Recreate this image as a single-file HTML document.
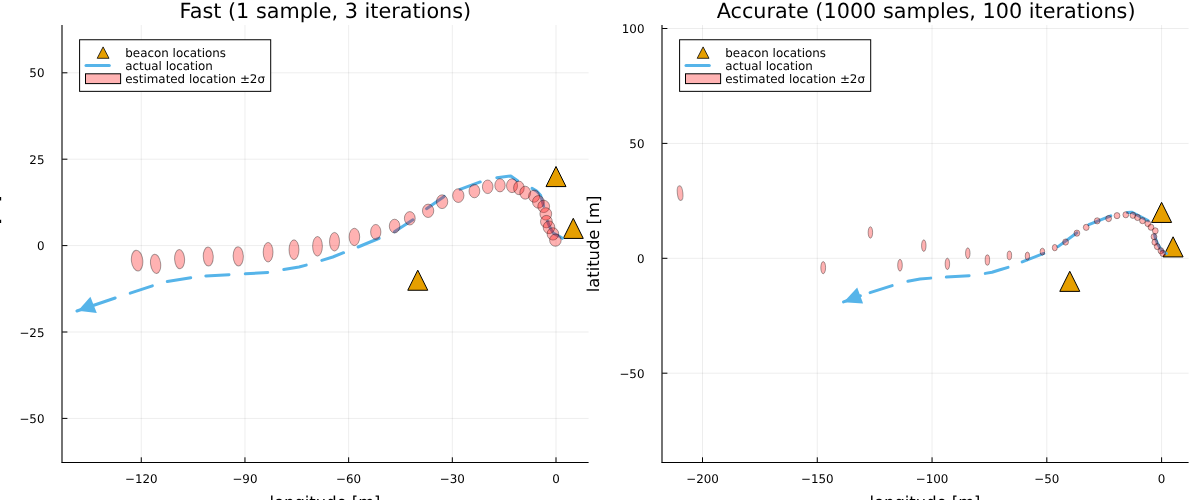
<!DOCTYPE html>
<html lang="en"><head><meta charset="utf-8"><title>Beacon localisation: fast vs accurate</title>
<style>html,body{margin:0;padding:0;background:#fff}body{width:1200px;height:500px;overflow:hidden}svg{display:block}text{font-family:"DejaVu Sans", "Liberation Sans", sans-serif;text-rendering:geometricPrecision}</style>
</head><body>
<svg width="1200" height="500" viewBox="0 0 1200 500">
<rect width="1200" height="500" fill="#fff"/>
<g id="left">
<g stroke="#000" stroke-opacity="0.1" stroke-width="0.7" fill="none">
<path d="M141.28 25.0V462.5"/>
<path d="M244.96 25.0V462.5"/>
<path d="M348.64 25.0V462.5"/>
<path d="M452.32 25.0V462.5"/>
<path d="M556.00 25.0V462.5"/>
<path d="M62.20 72.80H588.60"/>
<path d="M62.20 159.20H588.60"/>
<path d="M62.20 245.60H588.60"/>
<path d="M62.20 332.00H588.60"/>
<path d="M62.20 418.40H588.60"/>
</g>
<path d="M556.00 166.48L566.00 186.58L546.00 186.58Z" fill="#E69F00" stroke="#000" stroke-width="1" stroke-linejoin="miter"/>
<path d="M573.28 218.32L583.28 238.42L563.28 238.42Z" fill="#E69F00" stroke="#000" stroke-width="1" stroke-linejoin="miter"/>
<path d="M417.76 270.16L427.76 290.26L407.76 290.26Z" fill="#E69F00" stroke="#000" stroke-width="1" stroke-linejoin="miter"/>
<g stroke="#56B4E9" stroke-width="3" stroke-linecap="round" stroke-linejoin="round" fill="none">
<path d="M562.40 238.31L558.40 235.80L553.60 233.40L550.00 227.40L547.50 221.40"/>
<path d="M532.02 188.36L536.70 191.10L540.70 195.60L543.65 206.15"/>
<path d="M517.53 180.66L510.80 176.00L496.79 177.65"/>
<path d="M480.28 181.95L460.02 189.35"/>
<path d="M444.14 196.45L426.56 208.75"/>
<path d="M412.91 219.71L394.39 231.79"/>
<path d="M379.20 238.25L358.10 247.00"/>
<path d="M343.54 252.73L332.80 257.00L321.84 260.41"/>
<path d="M306.24 265.13L299.00 267.00L283.78 269.49"/>
<path d="M267.70 272.38L245.30 273.82"/>
<path d="M229.00 274.67L205.80 275.93"/>
<path d="M190.72 277.80L167.28 281.40"/>
<path d="M152.37 285.81L130.23 293.19"/>
<path d="M115.17 298.02L76.93 310.98"/>
</g>
<path d="M78 310.8L90.4 296.7L96.8 313.1Z" fill="#56B4E9"/>
<g fill="#f00" fill-opacity="0.3" stroke="#000" stroke-opacity="0.35" stroke-width="1">
<ellipse cx="137.10" cy="260.60" rx="5.70" ry="10.40" transform="rotate(-6 137.10 260.60)"/>
<ellipse cx="155.60" cy="263.80" rx="5.05" ry="9.70" transform="rotate(-7 155.60 263.80)"/>
<ellipse cx="179.60" cy="259.20" rx="5.00" ry="9.60" transform="rotate(-3 179.60 259.20)"/>
<ellipse cx="208.25" cy="256.60" rx="5.00" ry="9.50" transform="rotate(-2 208.25 256.60)"/>
<ellipse cx="238.25" cy="256.30" rx="5.10" ry="9.65" transform="rotate(-2 238.25 256.30)"/>
<ellipse cx="268.10" cy="252.20" rx="4.90" ry="9.80"/>
<ellipse cx="294.00" cy="249.70" rx="4.96" ry="9.90"/>
<ellipse cx="317.50" cy="246.30" rx="4.90" ry="9.80"/>
<ellipse cx="334.50" cy="241.70" rx="5.00" ry="9.30"/>
<ellipse cx="354.40" cy="236.95" rx="5.30" ry="8.70"/>
<ellipse cx="375.75" cy="231.95" rx="5.15" ry="7.50"/>
<ellipse cx="394.60" cy="226.10" rx="5.30" ry="6.90"/>
<ellipse cx="409.80" cy="218.30" rx="5.40" ry="6.70"/>
<ellipse cx="428.10" cy="210.80" rx="5.66" ry="6.70"/>
<ellipse cx="442.10" cy="201.70" rx="5.66" ry="6.90"/>
<ellipse cx="458.30" cy="195.60" rx="5.66" ry="6.90"/>
<ellipse cx="474.40" cy="191.10" rx="5.40" ry="6.70"/>
<ellipse cx="487.70" cy="186.80" rx="5.30" ry="6.80"/>
<ellipse cx="500.00" cy="185.30" rx="5.20" ry="6.60"/>
<ellipse cx="512.00" cy="185.70" rx="5.50" ry="6.95"/>
<ellipse cx="518.90" cy="187.90" rx="5.30" ry="6.80"/>
<ellipse cx="525.20" cy="192.70" rx="5.40" ry="6.50"/>
<ellipse cx="534.10" cy="196.20" rx="5.50" ry="6.10"/>
<ellipse cx="538.40" cy="201.90" rx="5.90" ry="6.30"/>
<ellipse cx="543.70" cy="206.40" rx="5.90" ry="6.20"/>
<ellipse cx="545.80" cy="213.90" rx="5.90" ry="6.20"/>
<ellipse cx="546.40" cy="221.60" rx="5.90" ry="6.20"/>
<ellipse cx="549.00" cy="227.30" rx="5.80" ry="6.40"/>
<ellipse cx="552.90" cy="233.90" rx="5.80" ry="6.20"/>
<ellipse cx="555.40" cy="240.20" rx="5.80" ry="6.10"/>
</g>
<rect x="79.60" y="39.75" width="191.1" height="51.6" fill="#fff" stroke="#000" stroke-width="1"/>
<path d="M103.10 46.90L109.00 58.30L97.20 58.30Z" fill="#E69F00" stroke="#000" stroke-width="0.8" stroke-linejoin="miter"/>
<path d="M86.00 65.6H109.30" stroke="#56B4E9" stroke-width="3" stroke-linecap="round" fill="none"/>
<rect x="85.50" y="73.8" width="35.1" height="9.8" fill="#FFB3B3" stroke="#000" stroke-width="1"/>
<text x="125.30" y="56.90" font-size="11.89" textLength="100.65" lengthAdjust="spacing">beacon locations</text>
<text x="125.30" y="69.90" font-size="11.89" textLength="87.57" lengthAdjust="spacing">actual location</text>
<text x="125.30" y="82.80" font-size="11.89" textLength="139.67" lengthAdjust="spacing">estimated location ±2σ</text>
<g stroke="#000" stroke-width="1" fill="none">
<path d="M62.00 25.0V463.00" stroke-width="1.1"/>
<path d="M61.70 462.50H588.60"/>
<path d="M141.28 462.50V457.30"/>
<path d="M244.96 462.50V457.30"/>
<path d="M348.64 462.50V457.30"/>
<path d="M452.32 462.50V457.30"/>
<path d="M556.00 462.50V457.30"/>
<path d="M62.20 72.80H67.40"/>
<path d="M62.20 159.20H67.40"/>
<path d="M62.20 245.60H67.40"/>
<path d="M62.20 332.00H67.40"/>
<path d="M62.20 418.40H67.40"/>
</g>
<text x="141.28" y="483.30" font-size="11.89" text-anchor="middle" textLength="32.66" lengthAdjust="spacing">−120</text>
<text x="244.96" y="483.30" font-size="11.89" text-anchor="middle" textLength="25.09" lengthAdjust="spacing">−90</text>
<text x="348.64" y="483.30" font-size="11.89" text-anchor="middle" textLength="25.09" lengthAdjust="spacing">−60</text>
<text x="452.32" y="483.30" font-size="11.89" text-anchor="middle" textLength="25.09" lengthAdjust="spacing">−30</text>
<text x="556.00" y="483.30" font-size="11.89" text-anchor="middle" textLength="7.56" lengthAdjust="spacing">0</text>
<text x="44.50" y="77.30" font-size="11.89" text-anchor="end" textLength="15.13" lengthAdjust="spacing">50</text>
<text x="44.50" y="163.70" font-size="11.89" text-anchor="end" textLength="15.13" lengthAdjust="spacing">25</text>
<text x="44.50" y="250.10" font-size="11.89" text-anchor="end" textLength="7.56" lengthAdjust="spacing">0</text>
<text x="44.50" y="336.50" font-size="11.89" text-anchor="end" textLength="25.09" lengthAdjust="spacing">−25</text>
<text x="44.50" y="422.90" font-size="11.89" text-anchor="end" textLength="25.09" lengthAdjust="spacing">−50</text>
<text x="325.40" y="17.90" font-size="20.78" text-anchor="middle" textLength="291.60" lengthAdjust="spacing">Fast (1 sample, 3 iterations)</text>
<text x="325.00" y="507.70" font-size="16.36" text-anchor="middle" textLength="110.99" lengthAdjust="spacing">longitude [m]</text>
<text x="0.00" y="0.00" font-size="16.36" text-anchor="middle" textLength="96.67" lengthAdjust="spacing" transform="translate(-0.80 244) rotate(-90)">latitude [m]</text>
</g>
<g id="right">
<g stroke="#000" stroke-opacity="0.1" stroke-width="0.7" fill="none">
<path d="M702.50 25.0V462.5"/>
<path d="M817.27 25.0V462.5"/>
<path d="M932.05 25.0V462.5"/>
<path d="M1046.82 25.0V462.5"/>
<path d="M1161.60 25.0V462.5"/>
<path d="M662.20 28.50H1188.60"/>
<path d="M662.20 143.40H1188.60"/>
<path d="M662.20 258.30H1188.60"/>
<path d="M662.20 373.20H1188.60"/>
</g>
<path d="M1161.60 202.34L1171.60 222.44L1151.60 222.44Z" fill="#E69F00" stroke="#000" stroke-width="1" stroke-linejoin="miter"/>
<path d="M1173.08 236.81L1183.08 256.91L1163.08 256.91Z" fill="#E69F00" stroke="#000" stroke-width="1" stroke-linejoin="miter"/>
<path d="M1069.78 271.28L1079.78 291.38L1059.78 291.38Z" fill="#E69F00" stroke="#000" stroke-width="1" stroke-linejoin="miter"/>
<g stroke="#56B4E9" stroke-width="3" stroke-linecap="round" stroke-linejoin="round" fill="none">
<path d="M1166.48 253.54L1163.50 251.80L1160.80 249.20L1157.60 243.80L1155.40 238.40L1154.59 234.87"/>
<path d="M1148.05 220.70L1131.60 212.20L1127.30 212.43"/>
<path d="M1110.80 215.79L1088.80 224.71"/>
<path d="M1076.95 232.77L1058.05 246.63"/>
<path d="M1043.79 253.47L1022.21 261.93"/>
<path d="M1008.06 267.37L1000.00 269.80L992.00 272.30L985.28 273.39"/>
<path d="M969.10 275.68L946.30 277.12"/>
<path d="M930.71 278.12L920.00 279.10L907.88 281.18"/>
<path d="M892.16 285.59L870.04 292.61"/>
<path d="M860.38 295.75L843.52 301.95"/>
</g>
<path d="M843.6 302.2L857.2 287.4L863.1 303.6Z" fill="#56B4E9"/>
<g fill="#f00" fill-opacity="0.3" stroke="#000" stroke-opacity="0.35" stroke-width="1">
<ellipse cx="680.10" cy="193.05" rx="2.80" ry="7.40" transform="rotate(-6 680.10 193.05)"/>
<ellipse cx="870.40" cy="232.45" rx="2.25" ry="5.70"/>
<ellipse cx="823.20" cy="267.65" rx="2.40" ry="6.10"/>
<ellipse cx="900.00" cy="265.25" rx="2.30" ry="5.90"/>
<ellipse cx="923.80" cy="245.65" rx="2.25" ry="5.80"/>
<ellipse cx="947.40" cy="263.85" rx="2.25" ry="5.70"/>
<ellipse cx="967.80" cy="253.25" rx="2.25" ry="5.40"/>
<ellipse cx="987.40" cy="260.05" rx="2.25" ry="5.20"/>
<ellipse cx="1009.40" cy="255.45" rx="2.25" ry="4.40"/>
<ellipse cx="1027.40" cy="256.05" rx="2.20" ry="4.00"/>
<ellipse cx="1042.40" cy="251.65" rx="2.30" ry="3.50"/>
<ellipse cx="1054.80" cy="247.65" rx="2.50" ry="3.20"/>
<ellipse cx="1065.60" cy="242.05" rx="2.90" ry="3.10"/>
<ellipse cx="1076.90" cy="233.15" rx="2.90" ry="3.10"/>
<ellipse cx="1086.20" cy="227.35" rx="2.90" ry="3.10"/>
<ellipse cx="1097.20" cy="220.85" rx="2.90" ry="3.10"/>
<ellipse cx="1108.60" cy="218.55" rx="2.90" ry="3.10"/>
<ellipse cx="1117.00" cy="215.65" rx="2.90" ry="3.10"/>
<ellipse cx="1125.80" cy="214.75" rx="2.90" ry="3.10"/>
<ellipse cx="1132.90" cy="215.35" rx="2.90" ry="3.10"/>
<ellipse cx="1137.50" cy="217.45" rx="2.90" ry="3.10"/>
<ellipse cx="1142.50" cy="220.65" rx="2.90" ry="3.10"/>
<ellipse cx="1147.80" cy="223.55" rx="2.90" ry="3.10"/>
<ellipse cx="1151.00" cy="227.25" rx="2.90" ry="3.10"/>
<ellipse cx="1155.30" cy="230.85" rx="2.90" ry="3.10"/>
<ellipse cx="1154.00" cy="236.65" rx="2.90" ry="3.10"/>
<ellipse cx="1154.80" cy="242.25" rx="2.90" ry="3.10"/>
<ellipse cx="1157.20" cy="246.55" rx="2.90" ry="3.10"/>
<ellipse cx="1160.90" cy="250.75" rx="2.90" ry="3.10"/>
<ellipse cx="1162.80" cy="253.45" rx="2.90" ry="3.10"/>
</g>
<rect x="679.60" y="39.75" width="191.1" height="51.6" fill="#fff" stroke="#000" stroke-width="1"/>
<path d="M703.10 46.90L709.00 58.30L697.20 58.30Z" fill="#E69F00" stroke="#000" stroke-width="0.8" stroke-linejoin="miter"/>
<path d="M686.00 65.6H709.30" stroke="#56B4E9" stroke-width="3" stroke-linecap="round" fill="none"/>
<rect x="685.50" y="73.8" width="35.1" height="9.8" fill="#FFB3B3" stroke="#000" stroke-width="1"/>
<text x="725.30" y="56.90" font-size="11.89" textLength="100.65" lengthAdjust="spacing">beacon locations</text>
<text x="725.30" y="69.90" font-size="11.89" textLength="87.57" lengthAdjust="spacing">actual location</text>
<text x="725.30" y="82.80" font-size="11.89" textLength="139.67" lengthAdjust="spacing">estimated location ±2σ</text>
<g stroke="#000" stroke-width="1" fill="none">
<path d="M662.00 25.0V463.00" stroke-width="1.1"/>
<path d="M661.70 462.50H1188.60"/>
<path d="M702.50 462.50V457.30"/>
<path d="M817.27 462.50V457.30"/>
<path d="M932.05 462.50V457.30"/>
<path d="M1046.82 462.50V457.30"/>
<path d="M1161.60 462.50V457.30"/>
<path d="M662.20 28.50H667.40"/>
<path d="M662.20 143.40H667.40"/>
<path d="M662.20 258.30H667.40"/>
<path d="M662.20 373.20H667.40"/>
</g>
<text x="702.50" y="483.30" font-size="11.89" text-anchor="middle" textLength="32.66" lengthAdjust="spacing">−200</text>
<text x="817.27" y="483.30" font-size="11.89" text-anchor="middle" textLength="32.66" lengthAdjust="spacing">−150</text>
<text x="932.05" y="483.30" font-size="11.89" text-anchor="middle" textLength="32.66" lengthAdjust="spacing">−100</text>
<text x="1046.82" y="483.30" font-size="11.89" text-anchor="middle" textLength="25.09" lengthAdjust="spacing">−50</text>
<text x="1161.60" y="483.30" font-size="11.89" text-anchor="middle" textLength="7.56" lengthAdjust="spacing">0</text>
<text x="644.50" y="33.00" font-size="11.89" text-anchor="end" textLength="22.69" lengthAdjust="spacing">100</text>
<text x="644.50" y="147.90" font-size="11.89" text-anchor="end" textLength="15.13" lengthAdjust="spacing">50</text>
<text x="644.50" y="262.80" font-size="11.89" text-anchor="end" textLength="7.56" lengthAdjust="spacing">0</text>
<text x="644.50" y="377.70" font-size="11.89" text-anchor="end" textLength="25.09" lengthAdjust="spacing">−50</text>
<text x="926.10" y="17.90" font-size="20.78" text-anchor="middle" textLength="418.86" lengthAdjust="spacing">Accurate (1000 samples, 100 iterations)</text>
<text x="925.00" y="507.70" font-size="16.36" text-anchor="middle" textLength="110.99" lengthAdjust="spacing">longitude [m]</text>
<text x="0.00" y="0.00" font-size="16.36" text-anchor="middle" textLength="96.67" lengthAdjust="spacing" transform="translate(599.20 244) rotate(-90)">latitude [m]</text>
</g>
</svg>
</body></html>
